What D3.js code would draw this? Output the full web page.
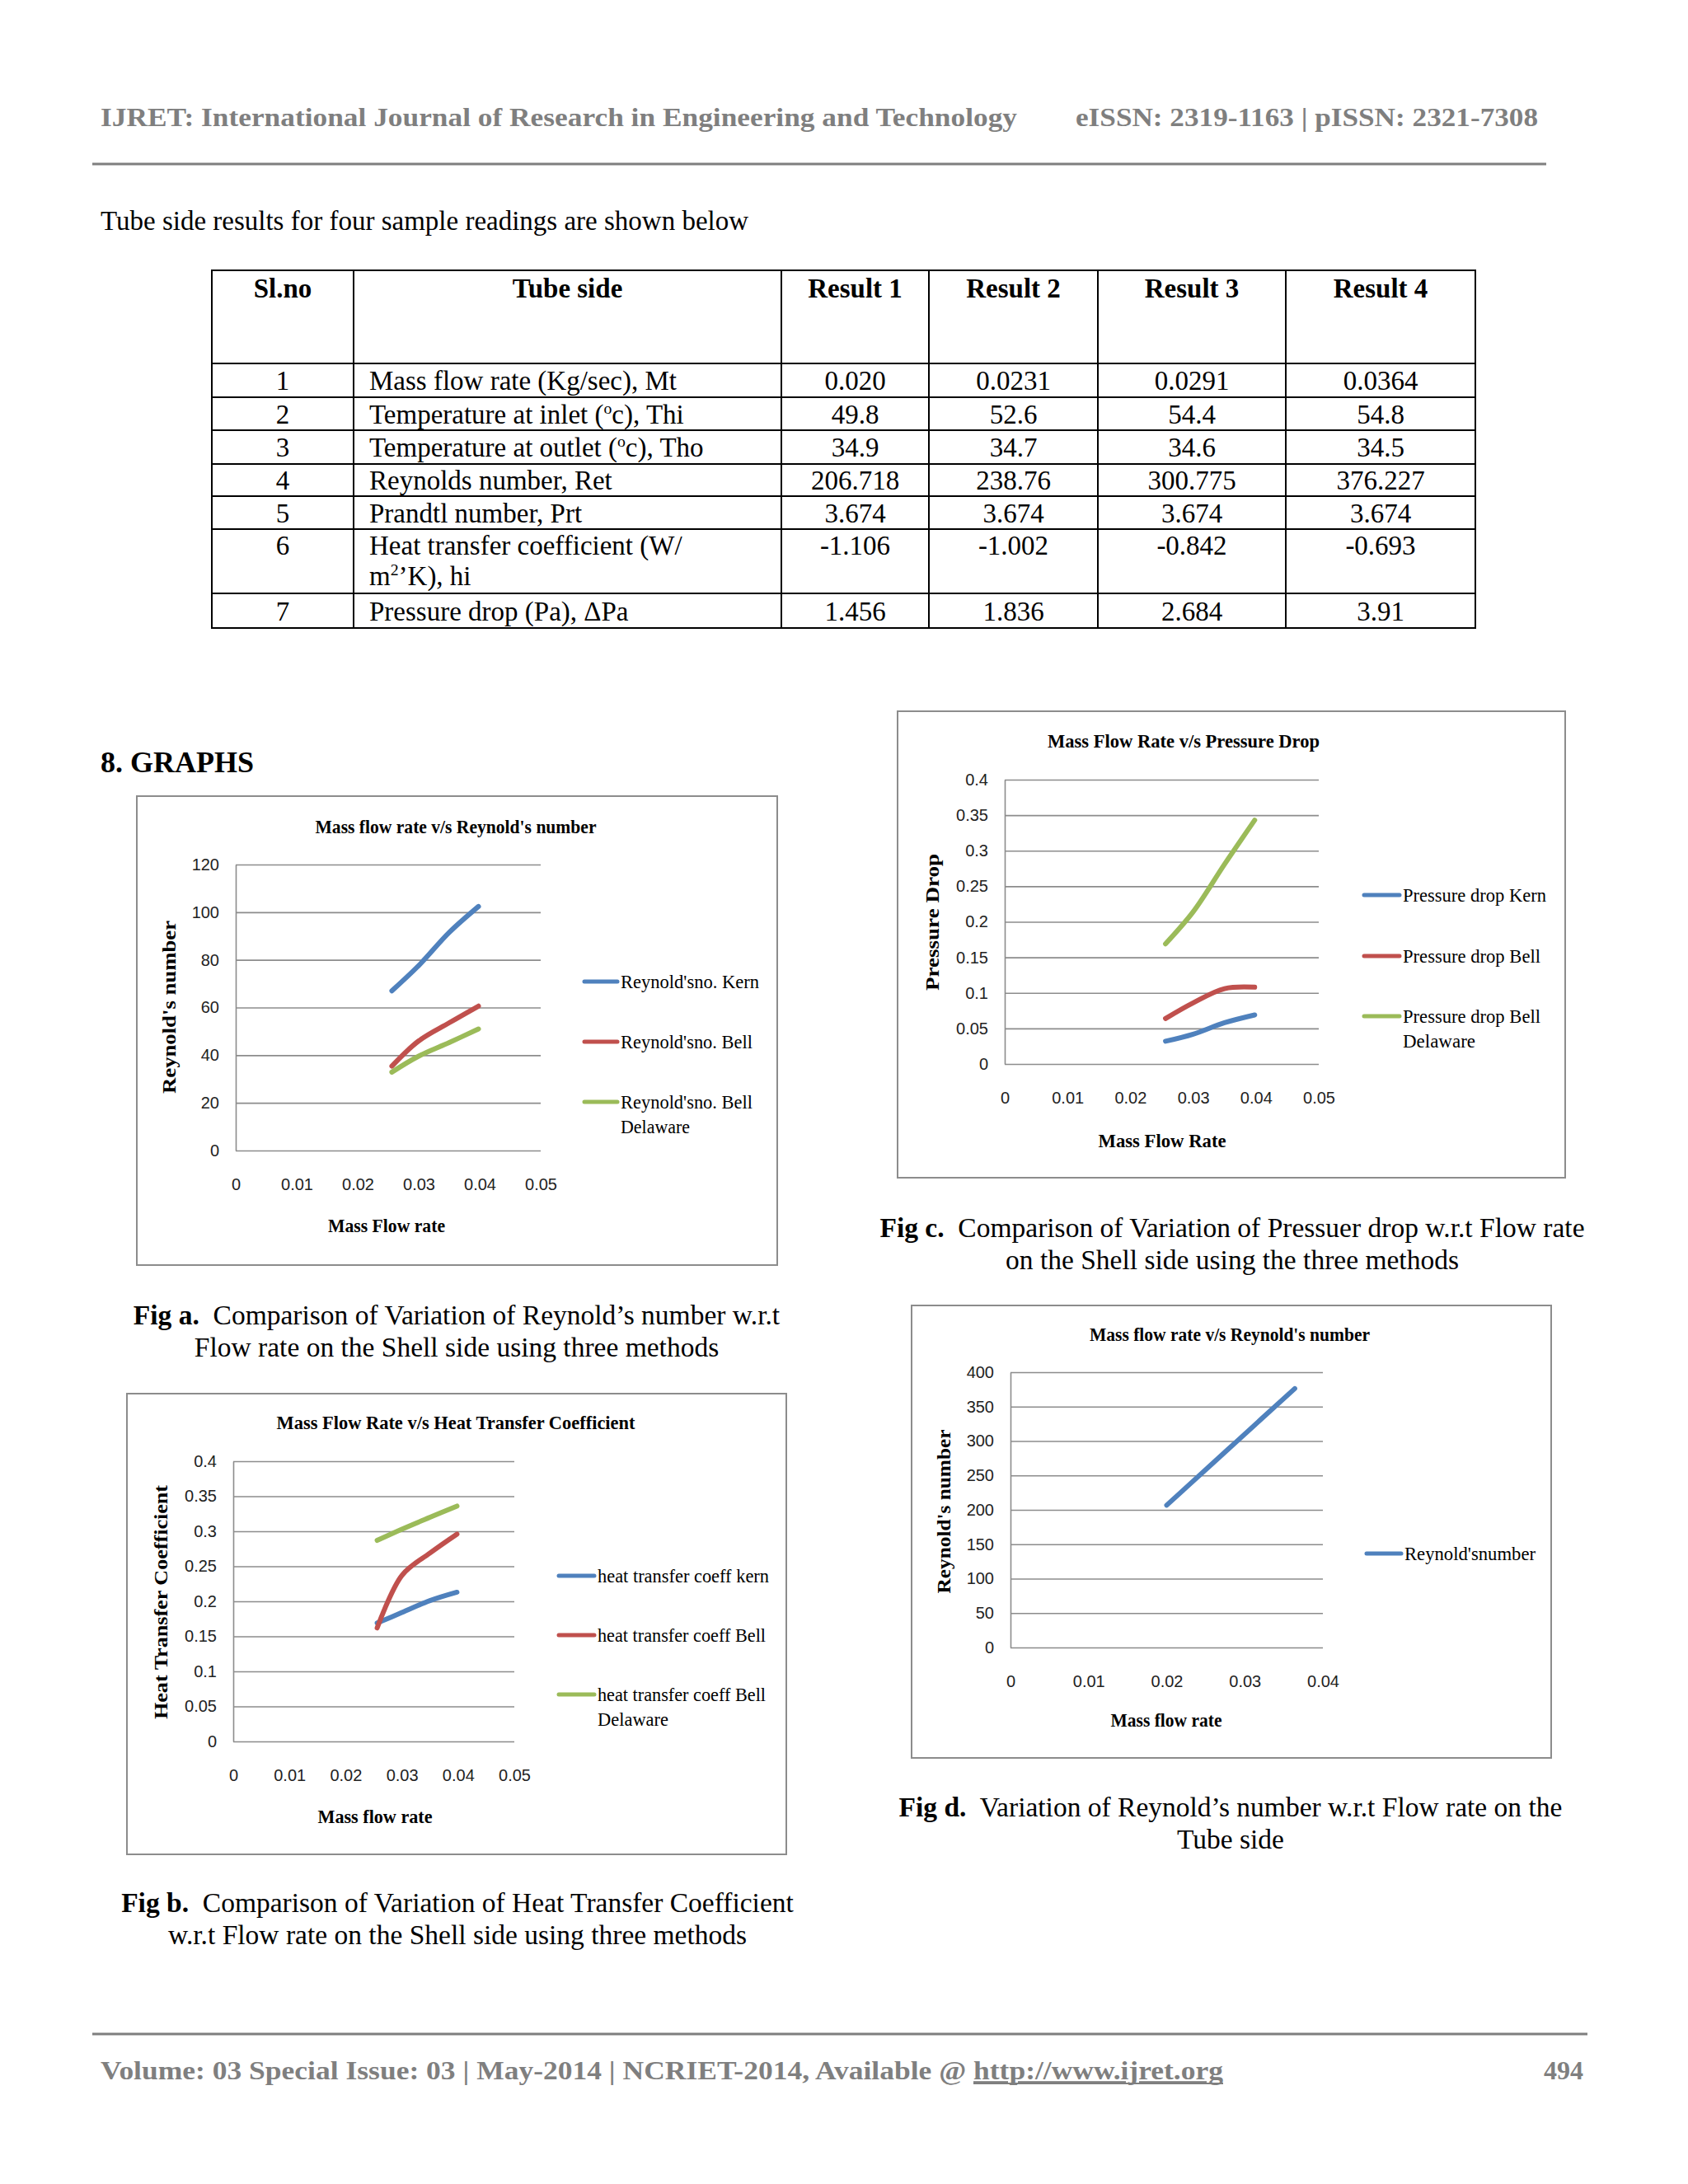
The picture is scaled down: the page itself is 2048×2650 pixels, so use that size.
<!DOCTYPE html>
<html><head><meta charset="utf-8">
<script src="https://cdn.jsdelivr.net/npm/d3@7"></script>
<style>body{margin:0;background:#fff}svg{display:block}</style>
</head><body>
<svg id="page" width="2048" height="2650"></svg>
<script>
// ---------- DATA ----------
const tableHeaders = ["Sl.no", "Tube side", "Result 1", "Result 2", "Result 3", "Result 4"];
const rowNumbers = ["1", "2", "3", "4", "5", "6", "7"];
const rowLabels = [
  "Mass flow rate (Kg/sec), Mt",
  "Temperature at inlet (^o^c), Thi",
  "Temperature at outlet (^o^c), Tho",
  "Reynolds number, Ret",
  "Prandtl number, Prt",
  "Heat transfer coefficient (W/|m^2^’K), hi",
  "Pressure drop (Pa),  ΔPa"
];
const result1 = ["0.020", "49.8", "34.9", "206.718", "3.674", "-1.106", "1.456"];
const result2 = ["0.0231", "52.6", "34.7", "238.76", "3.674", "-1.002", "1.836"];
const result3 = ["0.0291", "54.4", "34.6", "300.775", "3.674", "-0.842", "2.684"];
const result4 = ["0.0364", "54.8", "34.5", "376.227", "3.674", "-0.693", "3.91"];

const shellFlow = [0.0256, 0.0300, 0.0350, 0.0398];
const reKern = [67.0, 77.6, 91.5, 102.4];
const reBell = [35.4, 46.0, 53.6, 60.6];
const reBellDel = [32.9, 39.6, 45.3, 51.0];
const pdKern = [0.032, 0.042, 0.058, 0.069];
const pdBell = [0.064, 0.086, 0.106, 0.108];
const pdBellDel = [0.169, 0.214, 0.281, 0.343];
const htKern = [0.169, 0.184, 0.201, 0.213];
const htBell = [0.162, 0.237, 0.269, 0.296];
const htBellDel = [0.287, 0.303, 0.320, 0.336];
const tubeFlow = [0.020, 0.0231, 0.0291, 0.0364];
const tubeRe = [206.718, 238.76, 300.775, 376.227];

const xTicks05 = [0, 0.01, 0.02, 0.03, 0.04, 0.05];
const xTicks04 = [0, 0.01, 0.02, 0.03, 0.04];
const yTicksRe = [0, 20, 40, 60, 80, 100, 120];
const yTicks04 = [0, 0.05, 0.1, 0.15, 0.2, 0.25, 0.3, 0.35, 0.4];
const yTicksTube = [0, 50, 100, 150, 200, 250, 300, 350, 400];

const legendRe = ["Reynold'sno. Kern", "Reynold'sno. Bell", "Reynold'sno. Bell|Delaware"];
const legendPd = ["Pressure drop Kern", "Pressure drop Bell", "Pressure drop Bell|Delaware"];
const legendHt = ["heat transfer coeff kern", "heat transfer coeff Bell", "heat transfer coeff Bell|Delaware"];
const legendTube = ["Reynold'snumber"];

// ---------- DRAW ----------
const svg = d3.select("#page");
svg.append("rect").attr("width", 2048).attr("height", 2650).attr("fill", "#fff");
const SERIF = "'Liberation Serif','Times New Roman',serif";
const SANS = "'Liberation Sans',Arial,sans-serif";
const GRAY = "#7f7f7f";
const COLORS = ["#4F81BD", "#C0504D", "#9BBB59"];
const BODY = 33;

function txt(parent, x, y, s, o) {
  o = o || {};
  const size = o.size || BODY;
  const t = parent.append("text").attr("x", x).attr("y", y)
    .attr("font-family", o.family || SERIF)
    .attr("font-size", size)
    .attr("font-weight", o.bold ? "bold" : "normal")
    .attr("fill", o.fill || "#000")
    .attr("text-anchor", o.anchor || "start")
    .attr("dy", "0.35em");
  if (o.width) t.attr("textLength", o.width).attr("lengthAdjust", "spacingAndGlyphs");
  if (o.rotate) t.attr("transform", `rotate(${o.rotate},${x},${y})`);
  const parts = s.split("^");
  const shift = Math.round(size * 0.36);
  parts.forEach((p, i) => {
    if (!p) return;
    const sp = t.append("tspan").text(p);
    if (i % 2 === 1) sp.attr("font-size", size * 0.6).attr("dy", -shift);
    else if (i > 0) sp.attr("dy", shift);
  });
  return t;
}

// Header
txt(svg, 122, 142, "IJRET: International Journal of Research in Engineering and Technology", {bold: true, size: 32, fill: GRAY, width: 1112});
txt(svg, 1305, 142, "eISSN: 2319-1163 | pISSN: 2321-7308", {bold: true, size: 32, fill: GRAY, width: 561});
svg.append("line").attr("x1", 112).attr("x2", 1876).attr("y1", 199).attr("y2", 199).attr("stroke", GRAY).attr("stroke-width", 3);

txt(svg, 122, 267, "Tube side results for four sample readings are shown below", {});

// Table
const colX = [257, 429, 948, 1127, 1332, 1560, 1790];
const rowY = [328, 441, 482, 522, 563, 602, 642, 720, 762];
const tg = svg.append("g");
rowY.forEach(yv => tg.append("line").attr("x1", colX[0] - 1).attr("x2", colX[6] + 1).attr("y1", yv).attr("y2", yv).attr("stroke", "#000").attr("stroke-width", 2));
colX.forEach(xv => tg.append("line").attr("x1", xv).attr("x2", xv).attr("y1", rowY[0]).attr("y2", rowY[8]).attr("stroke", "#000").attr("stroke-width", 2));
tableHeaders.forEach((h, i) => {
  txt(tg, (colX[i] + colX[i + 1]) / 2, 349, h, {bold: true, anchor: "middle"});
});
const results = [result1, result2, result3, result4];
rowNumbers.forEach((n, r) => {
  const multi = rowLabels[r].includes("|");
  const cy = multi ? rowY[r + 1] + 19 : (rowY[r + 1] + rowY[r + 2]) / 2;
  txt(tg, (colX[0] + colX[1]) / 2, cy, n, {anchor: "middle"});
  rowLabels[r].split("|").forEach((ln, k) => txt(tg, colX[1] + 19, cy + k * 37, ln, {}));
  results.forEach((res, c) => txt(tg, (colX[c + 2] + colX[c + 3]) / 2, cy, res[r], {anchor: "middle"}));
});

txt(svg, 122, 924, "8. GRAPHS", {bold: true, size: 36});

// Chart function
function drawChart(cfg) {
  const g = svg.append("g");
  const f = cfg.frame;
  g.append("rect").attr("x", f[0]).attr("y", f[1]).attr("width", f[2] - f[0]).attr("height", f[3] - f[1])
    .attr("fill", "#fff").attr("stroke", "#8c8c8c").attr("stroke-width", 2);
  const p = cfg.plot;
  const x = d3.scaleLinear().domain([cfg.xTicks[0], cfg.xTicks[cfg.xTicks.length - 1]]).range([p[0], p[2]]);
  const y = d3.scaleLinear().domain([cfg.yTicks[0], cfg.yTicks[cfg.yTicks.length - 1]]).range([p[3], p[1]]);
  const fmt = d => String(+(+d).toFixed(3));
  const ya = g.append("g").attr("transform", `translate(${p[0]},0)`)
    .call(d3.axisLeft(y).tickValues(cfg.yTicks).tickSizeInner(-(p[2] - p[0])).tickSizeOuter(0).tickPadding(20).tickFormat(fmt));
  ya.selectAll(".tick line").attr("stroke", "#8c8c8c").attr("stroke-width", 1.6);
  ya.select(".domain").attr("stroke", "#8c8c8c").attr("stroke-width", 1.6);
  ya.selectAll(".tick text").attr("font-family", SANS).attr("font-size", 20).attr("fill", "#222");
  const xa = g.append("g").attr("transform", `translate(0,${p[3]})`)
    .call(d3.axisBottom(x).tickValues(cfg.xTicks).tickSize(0).tickPadding(34).tickFormat(fmt));
  xa.select(".domain").remove();
  xa.selectAll(".tick text").attr("font-family", SANS).attr("font-size", 20).attr("fill", "#222");

  const line = d3.line().x(d => x(d[0])).y(d => y(d[1])).curve(d3.curveCatmullRom.alpha(0.5));
  cfg.series.forEach((s, i) => {
    g.append("path").datum(cfg.xs.map((xv, k) => [xv, s[k]])).attr("d", line)
      .attr("fill", "none").attr("stroke", COLORS[i]).attr("stroke-width", 6)
      .attr("stroke-linecap", "round").attr("stroke-linejoin", "round");
  });
  const L = cfg.legend;
  cfg.names.forEach((nm, i) => {
    const ly = L.ys[i];
    g.append("line").attr("x1", L.x0).attr("x2", L.x1).attr("y1", ly).attr("y2", ly)
      .attr("stroke", COLORS[i]).attr("stroke-width", 5).attr("stroke-linecap", "round");
    nm.split("|").forEach((ln, k) => txt(g, L.x1 + 4, ly + k * 30, ln, {size: 23, width: L.widths[i][k]}));
  });
  txt(g, cfg.title[0], cfg.title[1], cfg.title[2], {bold: true, size: 24, anchor: "middle", width: cfg.title[3]});
  txt(g, cfg.ytitle[0], cfg.ytitle[1], cfg.ytitle[2], {bold: true, size: 23, anchor: "middle", width: cfg.ytitle[3], rotate: -90});
  txt(g, cfg.xtitle[0], cfg.xtitle[1], cfg.xtitle[2], {bold: true, size: 24, anchor: "middle", width: cfg.xtitle[3]});
}

// Fig a
drawChart({
  frame: [166, 966, 943, 1535], plot: [286, 1049, 656, 1396],
  xTicks: xTicks05, yTicks: yTicksRe, xs: shellFlow,
  series: [reKern, reBell, reBellDel], names: legendRe,
  legend: {x0: 709, x1: 749, ys: [1191, 1264, 1337], widths: [[168], [160], [160, 84]]},
  title: [553, 1003, "Mass flow rate v/s Reynold's number", 341],
  ytitle: [205, 1222, "Reynold's number", 210],
  xtitle: [469, 1487, "Mass Flow rate", 142]
});
// Fig c
drawChart({
  frame: [1089, 863, 1899, 1429], plot: [1219, 946, 1600, 1291],
  xTicks: xTicks05, yTicks: yTicks04, xs: shellFlow,
  series: [pdKern, pdBell, pdBellDel], names: legendPd,
  legend: {x0: 1655, x1: 1698, ys: [1086, 1160, 1233], widths: [[174], [167], [167, 88]]},
  title: [1436, 899, "Mass Flow Rate v/s Pressure Drop", 330],
  ytitle: [1131, 1119, "Pressure Drop", 166],
  xtitle: [1410, 1384, "Mass Flow Rate", 155]
});
// Fig b
drawChart({
  frame: [154, 1691, 954, 2250], plot: [283, 1773, 624, 2113],
  xTicks: xTicks05, yTicks: yTicks04, xs: shellFlow,
  series: [htKern, htBell, htBellDel], names: legendHt,
  legend: {x0: 678, x1: 721, ys: [1912, 1984, 2056], widths: [[208], [204], [204, 86]]},
  title: [553, 1726, "Mass Flow Rate v/s Heat Transfer Coefficient", 435],
  ytitle: [195, 1944, "Heat Transfer Coefficient", 284],
  xtitle: [455, 2204, "Mass flow rate", 139]
});
// Fig d
drawChart({
  frame: [1106, 1584, 1882, 2133], plot: [1226, 1665, 1605, 1999],
  xTicks: xTicks04, yTicks: yTicksTube, xs: tubeFlow,
  series: [tubeRe], names: legendTube,
  legend: {x0: 1658, x1: 1700, ys: [1885], widths: [[159]]},
  title: [1492, 1619, "Mass flow rate v/s Reynold's number", 340],
  ytitle: [1145, 1834, "Reynold's number", 199],
  xtitle: [1415, 2087, "Mass flow rate", 135]
});

// Captions
function caption(cx, y1, label, rest, line2) {
  const t = svg.append("text").attr("x", cx).attr("y", y1).attr("dy", "0.35em").attr("text-anchor", "middle")
    .attr("font-family", SERIF).attr("font-size", 33.5);
  t.append("tspan").attr("font-weight", "bold").text(label);
  t.append("tspan").text("\u00a0 " + rest);
  txt(svg, cx, y1 + 39, line2, {anchor: "middle", size: 33.5});
}
caption(554, 1595, "Fig a.", "Comparison of Variation of Reynold’s number w.r.t", "Flow rate on the Shell side using three methods");
caption(1495, 1489, "Fig c.", "Comparison of Variation of Pressuer drop w.r.t Flow rate", "on the Shell side using the three methods");
caption(1493, 2192, "Fig d.", "Variation of Reynold’s number w.r.t Flow rate on the", "Tube side");
caption(555, 2308, "Fig b.", "Comparison of Variation of Heat Transfer Coefficient", "w.r.t Flow rate on the Shell side using three methods");

// Footer
svg.append("line").attr("x1", 112).attr("x2", 1926).attr("y1", 2468).attr("y2", 2468).attr("stroke", GRAY).attr("stroke-width", 3);
const ft = svg.append("text").attr("x", 122).attr("y", 2512).attr("dy", "0.35em")
  .attr("font-family", SERIF).attr("font-size", 32).attr("font-weight", "bold").attr("fill", GRAY)
  .attr("textLength", 1362).attr("lengthAdjust", "spacingAndGlyphs");
ft.append("tspan").text("Volume: 03 Special Issue: 03 | May-2014 | NCRIET-2014, Available @ ");
ft.append("tspan").attr("text-decoration", "underline").text("http://www.ijret.org");
svg.append("line").attr("x1", 1181).attr("x2", 1484).attr("y1", 2528).attr("y2", 2528).attr("stroke", GRAY).attr("stroke-width", 2);
txt(svg, 1921, 2512, "494", {bold: true, size: 32, fill: GRAY, anchor: "end"});
</script>
</body></html>
